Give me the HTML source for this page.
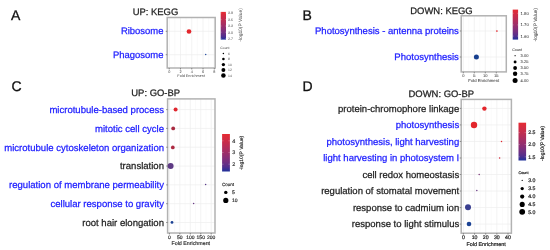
<!DOCTYPE html>
<html><head><meta charset="utf-8"><style>
html,body{margin:0;padding:0;background:#fff;width:550px;height:250px;overflow:hidden}
svg{display:block;filter:blur(0.35px)}
text{font-family:'Liberation Sans', Arial, sans-serif;text-rendering:geometricPrecision}
</style></head><body>
<svg width="550" height="250" viewBox="0 0 550 250">
<defs><linearGradient id="cb" x1="0" y1="0" x2="0" y2="1">
<stop offset="0.000" stop-color="#e62b32"/><stop offset="0.125" stop-color="#d52c41"/><stop offset="0.250" stop-color="#c32d4e"/><stop offset="0.375" stop-color="#b12e5b"/><stop offset="0.500" stop-color="#9e2e68"/><stop offset="0.625" stop-color="#892f75"/><stop offset="0.750" stop-color="#712f81"/><stop offset="0.875" stop-color="#532f8d"/><stop offset="1.000" stop-color="#1f309a"/>
</linearGradient></defs>
<rect width="550" height="250" fill="#fff"/>
<text x="11.0" y="20.4" font-size="14" fill="#111" text-anchor="start" stroke="#111" stroke-width="0.3" >A</text>
<text x="302.6" y="20.0" font-size="14" fill="#111" text-anchor="start" stroke="#111" stroke-width="0.3" >B</text>
<text x="11.4" y="91.4" font-size="14" fill="#111" text-anchor="start" stroke="#111" stroke-width="0.3" >C</text>
<text x="302.4" y="91.0" font-size="14" fill="#111" text-anchor="start" stroke="#111" stroke-width="0.3" >D</text>
<line x1="174.83749999999998" y1="17.5" x2="174.83749999999998" y2="68.0" stroke="#f6f6f6" stroke-width="0.6"/>
<line x1="186.1125" y1="17.5" x2="186.1125" y2="68.0" stroke="#f6f6f6" stroke-width="0.6"/>
<line x1="197.3875" y1="17.5" x2="197.3875" y2="68.0" stroke="#f6f6f6" stroke-width="0.6"/>
<line x1="208.66250000000002" y1="17.5" x2="208.66250000000002" y2="68.0" stroke="#f6f6f6" stroke-width="0.6"/>
<line x1="169.2" y1="17.5" x2="169.2" y2="68.0" stroke="#eeeeee" stroke-width="0.7"/>
<line x1="180.475" y1="17.5" x2="180.475" y2="68.0" stroke="#eeeeee" stroke-width="0.7"/>
<line x1="191.75" y1="17.5" x2="191.75" y2="68.0" stroke="#eeeeee" stroke-width="0.7"/>
<line x1="203.025" y1="17.5" x2="203.025" y2="68.0" stroke="#eeeeee" stroke-width="0.7"/>
<line x1="214.3" y1="17.5" x2="214.3" y2="68.0" stroke="#eeeeee" stroke-width="0.7"/>
<line x1="167.2" y1="31.3" x2="215.2" y2="31.3" stroke="#eeeeee" stroke-width="0.7"/>
<line x1="167.2" y1="54.7" x2="215.2" y2="54.7" stroke="#eeeeee" stroke-width="0.7"/>
<rect x="167.2" y="17.5" width="48.0" height="50.5" fill="none" stroke="#b2b2b2" stroke-width="1.5" />
<line x1="165.7" y1="31.3" x2="167.2" y2="31.3" stroke="#555" stroke-width="0.6"/>
<line x1="165.7" y1="54.7" x2="167.2" y2="54.7" stroke="#555" stroke-width="0.6"/>
<line x1="169.2" y1="68.0" x2="169.2" y2="69.5" stroke="#555" stroke-width="0.6"/>
<line x1="180.475" y1="68.0" x2="180.475" y2="69.5" stroke="#555" stroke-width="0.6"/>
<line x1="191.75" y1="68.0" x2="191.75" y2="69.5" stroke="#555" stroke-width="0.6"/>
<line x1="203.025" y1="68.0" x2="203.025" y2="69.5" stroke="#555" stroke-width="0.6"/>
<line x1="214.3" y1="68.0" x2="214.3" y2="69.5" stroke="#555" stroke-width="0.6"/>
<text x="163.4" y="34.2" font-size="9.45" fill="#2020ff" text-anchor="end" stroke="#2020ff" stroke-width="0.25" >Ribosome</text>
<text x="163.4" y="57.6" font-size="9.45" fill="#2020ff" text-anchor="end" stroke="#2020ff" stroke-width="0.25" >Phagosome</text>
<text x="169.2" y="72.6" font-size="3.8" fill="#4a4a4a" text-anchor="middle" >0</text>
<text x="180.47" y="72.6" font-size="3.8" fill="#4a4a4a" text-anchor="middle" >2</text>
<text x="191.75" y="72.6" font-size="3.8" fill="#4a4a4a" text-anchor="middle" >4</text>
<text x="203.03" y="72.6" font-size="3.8" fill="#4a4a4a" text-anchor="middle" >6</text>
<text x="214.3" y="72.6" font-size="3.8" fill="#4a4a4a" text-anchor="middle" >8</text>
<text x="191.2" y="77.2" font-size="3.8" fill="#4a4a4a" text-anchor="middle" >Fold Enrichment</text>
<circle cx="189.0" cy="31.5" r="2.35" fill="#e3262c"/>
<circle cx="205.7" cy="54.6" r="0.75" fill="#2a4fa0"/>
<text x="155.5" y="14.9" font-size="9.45" fill="#1e1e1e" text-anchor="middle" stroke="#1e1e1e" stroke-width="0.25" >UP: KEGG</text>
<rect x="220.7" y="11.9" width="5.3" height="27.700000000000003" fill="url(#cb)"/>
<line x1="220.7" y1="12.9" x2="221.76" y2="12.9" stroke="rgba(255,255,255,0.6)" stroke-width="0.4"/>
<line x1="224.94" y1="12.9" x2="226.0" y2="12.9" stroke="rgba(255,255,255,0.6)" stroke-width="0.4"/>
<line x1="220.7" y1="19.6" x2="221.76" y2="19.6" stroke="rgba(255,255,255,0.6)" stroke-width="0.4"/>
<line x1="224.94" y1="19.6" x2="226.0" y2="19.6" stroke="rgba(255,255,255,0.6)" stroke-width="0.4"/>
<line x1="220.7" y1="26.0" x2="221.76" y2="26.0" stroke="rgba(255,255,255,0.6)" stroke-width="0.4"/>
<line x1="224.94" y1="26.0" x2="226.0" y2="26.0" stroke="rgba(255,255,255,0.6)" stroke-width="0.4"/>
<line x1="220.7" y1="32.2" x2="221.76" y2="32.2" stroke="rgba(255,255,255,0.6)" stroke-width="0.4"/>
<line x1="224.94" y1="32.2" x2="226.0" y2="32.2" stroke="rgba(255,255,255,0.6)" stroke-width="0.4"/>
<line x1="220.7" y1="38.4" x2="221.76" y2="38.4" stroke="rgba(255,255,255,0.6)" stroke-width="0.4"/>
<line x1="224.94" y1="38.4" x2="226.0" y2="38.4" stroke="rgba(255,255,255,0.6)" stroke-width="0.4"/>
<text x="228.0" y="14.2" font-size="3.6" fill="#4a4a4a" text-anchor="start" >3.9</text>
<text x="228.0" y="20.9" font-size="3.6" fill="#4a4a4a" text-anchor="start" >3.6</text>
<text x="228.0" y="27.3" font-size="3.6" fill="#4a4a4a" text-anchor="start" >3.3</text>
<text x="228.0" y="33.5" font-size="3.6" fill="#4a4a4a" text-anchor="start" >3.0</text>
<text x="228.0" y="39.7" font-size="3.6" fill="#4a4a4a" text-anchor="start" >2.7</text>
<text x="241.5" y="25.0" font-size="4.9" fill="#4a4a4a" text-anchor="middle" transform="rotate(-90 241.5 25.0)" dominant-baseline="central">-log10(P Value)</text>
<text x="220.3" y="49.32" font-size="3.4" fill="#4a4a4a" text-anchor="start" >Count</text>
<circle cx="223.4" cy="53.4" r="0.75" fill="#000"/>
<text x="228.0" y="54.62" font-size="3.4" fill="#4a4a4a" text-anchor="start" >6</text>
<circle cx="223.4" cy="59.0" r="1.3" fill="#000"/>
<text x="228.0" y="60.22" font-size="3.4" fill="#4a4a4a" text-anchor="start" >8</text>
<circle cx="223.4" cy="64.6" r="1.65" fill="#000"/>
<text x="228.0" y="65.82" font-size="3.4" fill="#4a4a4a" text-anchor="start" >10</text>
<circle cx="223.4" cy="70.0" r="1.95" fill="#000"/>
<text x="228.0" y="71.22" font-size="3.4" fill="#4a4a4a" text-anchor="start" >12</text>
<circle cx="223.4" cy="75.4" r="2.25" fill="#000"/>
<text x="228.0" y="76.62" font-size="3.4" fill="#4a4a4a" text-anchor="start" >14</text>
<line x1="468.8" y1="15.8" x2="468.8" y2="71.9" stroke="#f6f6f6" stroke-width="0.6"/>
<line x1="479.8" y1="15.8" x2="479.8" y2="71.9" stroke="#f6f6f6" stroke-width="0.6"/>
<line x1="490.8" y1="15.8" x2="490.8" y2="71.9" stroke="#f6f6f6" stroke-width="0.6"/>
<line x1="501.8" y1="15.8" x2="501.8" y2="71.9" stroke="#f6f6f6" stroke-width="0.6"/>
<line x1="463.3" y1="15.8" x2="463.3" y2="71.9" stroke="#eeeeee" stroke-width="0.7"/>
<line x1="474.3" y1="15.8" x2="474.3" y2="71.9" stroke="#eeeeee" stroke-width="0.7"/>
<line x1="485.3" y1="15.8" x2="485.3" y2="71.9" stroke="#eeeeee" stroke-width="0.7"/>
<line x1="496.3" y1="15.8" x2="496.3" y2="71.9" stroke="#eeeeee" stroke-width="0.7"/>
<line x1="461.2" y1="31.0" x2="506.3" y2="31.0" stroke="#eeeeee" stroke-width="0.7"/>
<line x1="461.2" y1="57.0" x2="506.3" y2="57.0" stroke="#eeeeee" stroke-width="0.7"/>
<rect x="461.2" y="15.8" width="45.10000000000002" height="56.10000000000001" fill="none" stroke="#b2b2b2" stroke-width="1.5" />
<line x1="459.7" y1="31.0" x2="461.2" y2="31.0" stroke="#555" stroke-width="0.6"/>
<line x1="459.7" y1="57.0" x2="461.2" y2="57.0" stroke="#555" stroke-width="0.6"/>
<line x1="463.3" y1="71.9" x2="463.3" y2="73.4" stroke="#555" stroke-width="0.6"/>
<line x1="474.3" y1="71.9" x2="474.3" y2="73.4" stroke="#555" stroke-width="0.6"/>
<line x1="485.3" y1="71.9" x2="485.3" y2="73.4" stroke="#555" stroke-width="0.6"/>
<line x1="496.3" y1="71.9" x2="496.3" y2="73.4" stroke="#555" stroke-width="0.6"/>
<text x="458.9" y="33.5" font-size="9.53" fill="#2020ff" text-anchor="end" stroke="#2020ff" stroke-width="0.25" >Photosynthesis - antenna proteins</text>
<text x="458.9" y="59.5" font-size="9.53" fill="#2020ff" text-anchor="end" stroke="#2020ff" stroke-width="0.25" >Photosynthesis</text>
<text x="463.3" y="77.1" font-size="4.0" fill="#444444" text-anchor="middle" stroke="#444444" stroke-width="0.05" >0</text>
<text x="474.3" y="77.1" font-size="4.0" fill="#444444" text-anchor="middle" stroke="#444444" stroke-width="0.05" >5</text>
<text x="485.3" y="77.1" font-size="4.0" fill="#444444" text-anchor="middle" stroke="#444444" stroke-width="0.05" >10</text>
<text x="496.3" y="77.1" font-size="4.0" fill="#444444" text-anchor="middle" stroke="#444444" stroke-width="0.05" >15</text>
<text x="483.8" y="81.6" font-size="4.25" fill="#444444" text-anchor="middle" stroke="#444444" stroke-width="0.05" >Fold Enrichment</text>
<circle cx="496.9" cy="31.0" r="0.85" fill="#e3262c"/>
<circle cx="476.4" cy="56.9" r="2.5" fill="#173f8f"/>
<text x="441.5" y="14.1" font-size="9.45" fill="#1e1e1e" text-anchor="middle" stroke="#1e1e1e" stroke-width="0.25" >DOWN: KEGG</text>
<rect x="512.7" y="9.6" width="5.4" height="30.0" fill="url(#cb)"/>
<line x1="512.7" y1="13.3" x2="513.7800000000001" y2="13.3" stroke="rgba(255,255,255,0.6)" stroke-width="0.4"/>
<line x1="517.02" y1="13.3" x2="518.1" y2="13.3" stroke="rgba(255,255,255,0.6)" stroke-width="0.4"/>
<line x1="512.7" y1="24.9" x2="513.7800000000001" y2="24.9" stroke="rgba(255,255,255,0.6)" stroke-width="0.4"/>
<line x1="517.02" y1="24.9" x2="518.1" y2="24.9" stroke="rgba(255,255,255,0.6)" stroke-width="0.4"/>
<line x1="512.7" y1="36.1" x2="513.7800000000001" y2="36.1" stroke="rgba(255,255,255,0.6)" stroke-width="0.4"/>
<line x1="517.02" y1="36.1" x2="518.1" y2="36.1" stroke="rgba(255,255,255,0.6)" stroke-width="0.4"/>
<text x="520.5" y="14.85" font-size="4.3" fill="#444444" text-anchor="start" stroke="#444444" stroke-width="0.05" >1.80</text>
<text x="520.5" y="26.45" font-size="4.3" fill="#444444" text-anchor="start" stroke="#444444" stroke-width="0.05" >1.70</text>
<text x="520.5" y="37.65" font-size="4.3" fill="#444444" text-anchor="start" stroke="#444444" stroke-width="0.05" >1.60</text>
<text x="536.6" y="24.8" font-size="4.9" fill="#444444" text-anchor="middle" stroke="#444444" stroke-width="0.05" transform="rotate(-90 536.6 24.8)" dominant-baseline="central">-log10(P Value)</text>
<text x="512.2" y="50.63" font-size="3.7" fill="#444444" text-anchor="start" stroke="#444444" stroke-width="0.05" >Count</text>
<circle cx="515.1" cy="55.7" r="0.6" fill="#000"/>
<text x="520.6" y="57.14" font-size="4.0" fill="#444444" text-anchor="start" stroke="#444444" stroke-width="0.05" >3.00</text>
<circle cx="515.1" cy="62.0" r="1.45" fill="#000"/>
<text x="520.6" y="63.44" font-size="4.0" fill="#444444" text-anchor="start" stroke="#444444" stroke-width="0.05" >3.25</text>
<circle cx="515.1" cy="68.0" r="1.9" fill="#000"/>
<text x="520.6" y="69.44" font-size="4.0" fill="#444444" text-anchor="start" stroke="#444444" stroke-width="0.05" >3.50</text>
<circle cx="515.1" cy="73.8" r="2.2" fill="#000"/>
<text x="520.6" y="75.24" font-size="4.0" fill="#444444" text-anchor="start" stroke="#444444" stroke-width="0.05" >3.75</text>
<circle cx="515.1" cy="80.5" r="2.5" fill="#000"/>
<text x="520.6" y="81.94" font-size="4.0" fill="#444444" text-anchor="start" stroke="#444444" stroke-width="0.05" >4.00</text>
<line x1="174.625" y1="98.9" x2="174.625" y2="233.0" stroke="#f6f6f6" stroke-width="0.6"/>
<line x1="185.075" y1="98.9" x2="185.075" y2="233.0" stroke="#f6f6f6" stroke-width="0.6"/>
<line x1="195.525" y1="98.9" x2="195.525" y2="233.0" stroke="#f6f6f6" stroke-width="0.6"/>
<line x1="205.975" y1="98.9" x2="205.975" y2="233.0" stroke="#f6f6f6" stroke-width="0.6"/>
<line x1="169.4" y1="98.9" x2="169.4" y2="233.0" stroke="#eeeeee" stroke-width="0.7"/>
<line x1="179.85" y1="98.9" x2="179.85" y2="233.0" stroke="#eeeeee" stroke-width="0.7"/>
<line x1="190.3" y1="98.9" x2="190.3" y2="233.0" stroke="#eeeeee" stroke-width="0.7"/>
<line x1="200.75" y1="98.9" x2="200.75" y2="233.0" stroke="#eeeeee" stroke-width="0.7"/>
<line x1="211.2" y1="98.9" x2="211.2" y2="233.0" stroke="#eeeeee" stroke-width="0.7"/>
<line x1="167.6" y1="109.6" x2="215.0" y2="109.6" stroke="#eeeeee" stroke-width="0.7"/>
<line x1="167.6" y1="128.42" x2="215.0" y2="128.42" stroke="#eeeeee" stroke-width="0.7"/>
<line x1="167.6" y1="147.23" x2="215.0" y2="147.23" stroke="#eeeeee" stroke-width="0.7"/>
<line x1="167.6" y1="166.05" x2="215.0" y2="166.05" stroke="#eeeeee" stroke-width="0.7"/>
<line x1="167.6" y1="184.87" x2="215.0" y2="184.87" stroke="#eeeeee" stroke-width="0.7"/>
<line x1="167.6" y1="203.68" x2="215.0" y2="203.68" stroke="#eeeeee" stroke-width="0.7"/>
<line x1="167.6" y1="222.5" x2="215.0" y2="222.5" stroke="#eeeeee" stroke-width="0.7"/>
<rect x="167.6" y="98.9" width="47.400000000000006" height="134.1" fill="none" stroke="#b2b2b2" stroke-width="1.5" />
<line x1="166.1" y1="109.6" x2="167.6" y2="109.6" stroke="#555" stroke-width="0.6"/>
<line x1="166.1" y1="128.42" x2="167.6" y2="128.42" stroke="#555" stroke-width="0.6"/>
<line x1="166.1" y1="147.23" x2="167.6" y2="147.23" stroke="#555" stroke-width="0.6"/>
<line x1="166.1" y1="166.05" x2="167.6" y2="166.05" stroke="#555" stroke-width="0.6"/>
<line x1="166.1" y1="184.87" x2="167.6" y2="184.87" stroke="#555" stroke-width="0.6"/>
<line x1="166.1" y1="203.68" x2="167.6" y2="203.68" stroke="#555" stroke-width="0.6"/>
<line x1="166.1" y1="222.5" x2="167.6" y2="222.5" stroke="#555" stroke-width="0.6"/>
<line x1="169.4" y1="233.0" x2="169.4" y2="234.5" stroke="#555" stroke-width="0.6"/>
<line x1="179.85" y1="233.0" x2="179.85" y2="234.5" stroke="#555" stroke-width="0.6"/>
<line x1="190.3" y1="233.0" x2="190.3" y2="234.5" stroke="#555" stroke-width="0.6"/>
<line x1="200.75" y1="233.0" x2="200.75" y2="234.5" stroke="#555" stroke-width="0.6"/>
<line x1="211.2" y1="233.0" x2="211.2" y2="234.5" stroke="#555" stroke-width="0.6"/>
<text x="164.0" y="112.9" font-size="9.55" fill="#2020ff" text-anchor="end" stroke="#2020ff" stroke-width="0.25" >microtubule-based process</text>
<text x="164.0" y="131.72" font-size="9.55" fill="#2020ff" text-anchor="end" stroke="#2020ff" stroke-width="0.25" >mitotic cell cycle</text>
<text x="164.0" y="150.53" font-size="9.55" fill="#2020ff" text-anchor="end" stroke="#2020ff" stroke-width="0.25" >microtubule cytoskeleton organization</text>
<text x="164.0" y="169.35" font-size="9.55" fill="#1e1e1e" text-anchor="end" stroke="#1e1e1e" stroke-width="0.25" >translation</text>
<text x="164.0" y="188.17" font-size="9.55" fill="#2020ff" text-anchor="end" stroke="#2020ff" stroke-width="0.25" >regulation of membrane permeability</text>
<text x="164.0" y="206.98" font-size="9.55" fill="#2020ff" text-anchor="end" stroke="#2020ff" stroke-width="0.25" >cellular response to gravity</text>
<text x="164.0" y="225.8" font-size="9.55" fill="#1e1e1e" text-anchor="end" stroke="#1e1e1e" stroke-width="0.25" >root hair elongation</text>
<text x="169.4" y="238.8" font-size="5.0" fill="#2a2a2a" text-anchor="middle" stroke="#2a2a2a" stroke-width="0.16" >0</text>
<text x="179.85" y="238.8" font-size="5.0" fill="#2a2a2a" text-anchor="middle" stroke="#2a2a2a" stroke-width="0.16" >50</text>
<text x="190.3" y="238.8" font-size="5.0" fill="#2a2a2a" text-anchor="middle" stroke="#2a2a2a" stroke-width="0.16" >100</text>
<text x="200.75" y="238.8" font-size="5.0" fill="#2a2a2a" text-anchor="middle" stroke="#2a2a2a" stroke-width="0.16" >150</text>
<text x="211.2" y="238.8" font-size="5.0" fill="#2a2a2a" text-anchor="middle" stroke="#2a2a2a" stroke-width="0.16" >200</text>
<text x="190.8" y="244.9" font-size="5.3" fill="#2a2a2a" text-anchor="middle" stroke="#2a2a2a" stroke-width="0.16" >Fold Enrichment</text>
<circle cx="175.6" cy="109.6" r="2.0" fill="#e0262e"/>
<circle cx="173.2" cy="128.4" r="1.9" fill="#a82a40"/>
<circle cx="172.8" cy="147.4" r="1.85" fill="#ad2a42"/>
<circle cx="170.6" cy="166.0" r="3.0" fill="#5e3a84"/>
<circle cx="205.6" cy="184.6" r="0.75" fill="#5a3b8a"/>
<circle cx="193.6" cy="203.4" r="0.75" fill="#6a3a86"/>
<circle cx="172.0" cy="222.4" r="1.4" fill="#1b4294"/>
<text x="155.7" y="96.0" font-size="9.45" fill="#1e1e1e" text-anchor="middle" stroke="#1e1e1e" stroke-width="0.25" >UP: GO-BP</text>
<rect x="222.1" y="134.0" width="7.8" height="37.5" fill="url(#cb)"/>
<line x1="222.1" y1="140.8" x2="223.66" y2="140.8" stroke="rgba(255,255,255,0.6)" stroke-width="0.4"/>
<line x1="228.34" y1="140.8" x2="229.9" y2="140.8" stroke="rgba(255,255,255,0.6)" stroke-width="0.4"/>
<line x1="222.1" y1="152.5" x2="223.66" y2="152.5" stroke="rgba(255,255,255,0.6)" stroke-width="0.4"/>
<line x1="228.34" y1="152.5" x2="229.9" y2="152.5" stroke="rgba(255,255,255,0.6)" stroke-width="0.4"/>
<line x1="222.1" y1="164.2" x2="223.66" y2="164.2" stroke="rgba(255,255,255,0.6)" stroke-width="0.4"/>
<line x1="228.34" y1="164.2" x2="229.9" y2="164.2" stroke="rgba(255,255,255,0.6)" stroke-width="0.4"/>
<text x="232.2" y="142.74" font-size="5.4" fill="#2a2a2a" text-anchor="start" stroke="#2a2a2a" stroke-width="0.16" >4</text>
<text x="232.2" y="154.44" font-size="5.4" fill="#2a2a2a" text-anchor="start" stroke="#2a2a2a" stroke-width="0.16" >3</text>
<text x="232.2" y="166.14" font-size="5.4" fill="#2a2a2a" text-anchor="start" stroke="#2a2a2a" stroke-width="0.16" >2</text>
<text x="242.1" y="152.9" font-size="5.0" fill="#2a2a2a" text-anchor="middle" stroke="#2a2a2a" stroke-width="0.16" transform="rotate(-90 242.1 152.9)" dominant-baseline="central">-log10(P Value)</text>
<text x="222.0" y="186.02" font-size="4.5" fill="#2a2a2a" text-anchor="start" stroke="#2a2a2a" stroke-width="0.16" >Count</text>
<circle cx="225.8" cy="192.4" r="1.7" fill="#000"/>
<text x="232.0" y="194.2" font-size="5.0" fill="#2a2a2a" text-anchor="start" stroke="#2a2a2a" stroke-width="0.16" >5</text>
<circle cx="225.8" cy="200.4" r="2.6" fill="#000"/>
<text x="232.0" y="202.2" font-size="5.0" fill="#2a2a2a" text-anchor="start" stroke="#2a2a2a" stroke-width="0.16" >10</text>
<line x1="468.97499999999997" y1="99.4" x2="468.97499999999997" y2="233.2" stroke="#f6f6f6" stroke-width="0.6"/>
<line x1="480.125" y1="99.4" x2="480.125" y2="233.2" stroke="#f6f6f6" stroke-width="0.6"/>
<line x1="491.275" y1="99.4" x2="491.275" y2="233.2" stroke="#f6f6f6" stroke-width="0.6"/>
<line x1="502.425" y1="99.4" x2="502.425" y2="233.2" stroke="#f6f6f6" stroke-width="0.6"/>
<line x1="463.4" y1="99.4" x2="463.4" y2="233.2" stroke="#eeeeee" stroke-width="0.7"/>
<line x1="474.54999999999995" y1="99.4" x2="474.54999999999995" y2="233.2" stroke="#eeeeee" stroke-width="0.7"/>
<line x1="485.7" y1="99.4" x2="485.7" y2="233.2" stroke="#eeeeee" stroke-width="0.7"/>
<line x1="496.85" y1="99.4" x2="496.85" y2="233.2" stroke="#eeeeee" stroke-width="0.7"/>
<line x1="508.0" y1="99.4" x2="508.0" y2="233.2" stroke="#eeeeee" stroke-width="0.7"/>
<line x1="461.2" y1="108.4" x2="511.4" y2="108.4" stroke="#eeeeee" stroke-width="0.7"/>
<line x1="461.2" y1="124.93" x2="511.4" y2="124.93" stroke="#eeeeee" stroke-width="0.7"/>
<line x1="461.2" y1="141.46" x2="511.4" y2="141.46" stroke="#eeeeee" stroke-width="0.7"/>
<line x1="461.2" y1="157.99" x2="511.4" y2="157.99" stroke="#eeeeee" stroke-width="0.7"/>
<line x1="461.2" y1="174.51" x2="511.4" y2="174.51" stroke="#eeeeee" stroke-width="0.7"/>
<line x1="461.2" y1="191.04" x2="511.4" y2="191.04" stroke="#eeeeee" stroke-width="0.7"/>
<line x1="461.2" y1="207.57" x2="511.4" y2="207.57" stroke="#eeeeee" stroke-width="0.7"/>
<line x1="461.2" y1="224.1" x2="511.4" y2="224.1" stroke="#eeeeee" stroke-width="0.7"/>
<rect x="461.2" y="99.4" width="50.19999999999999" height="133.79999999999998" fill="none" stroke="#b2b2b2" stroke-width="1.5" />
<line x1="459.7" y1="108.4" x2="461.2" y2="108.4" stroke="#555" stroke-width="0.6"/>
<line x1="459.7" y1="124.93" x2="461.2" y2="124.93" stroke="#555" stroke-width="0.6"/>
<line x1="459.7" y1="141.46" x2="461.2" y2="141.46" stroke="#555" stroke-width="0.6"/>
<line x1="459.7" y1="157.99" x2="461.2" y2="157.99" stroke="#555" stroke-width="0.6"/>
<line x1="459.7" y1="174.51" x2="461.2" y2="174.51" stroke="#555" stroke-width="0.6"/>
<line x1="459.7" y1="191.04" x2="461.2" y2="191.04" stroke="#555" stroke-width="0.6"/>
<line x1="459.7" y1="207.57" x2="461.2" y2="207.57" stroke="#555" stroke-width="0.6"/>
<line x1="459.7" y1="224.1" x2="461.2" y2="224.1" stroke="#555" stroke-width="0.6"/>
<line x1="463.4" y1="233.2" x2="463.4" y2="234.7" stroke="#555" stroke-width="0.6"/>
<line x1="474.54999999999995" y1="233.2" x2="474.54999999999995" y2="234.7" stroke="#555" stroke-width="0.6"/>
<line x1="485.7" y1="233.2" x2="485.7" y2="234.7" stroke="#555" stroke-width="0.6"/>
<line x1="496.85" y1="233.2" x2="496.85" y2="234.7" stroke="#555" stroke-width="0.6"/>
<line x1="508.0" y1="233.2" x2="508.0" y2="234.7" stroke="#555" stroke-width="0.6"/>
<text x="459.2" y="111.5" font-size="9.52" fill="#1e1e1e" text-anchor="end" stroke="#1e1e1e" stroke-width="0.25" >protein-chromophore linkage</text>
<text x="459.2" y="128.03" font-size="9.52" fill="#2020ff" text-anchor="end" stroke="#2020ff" stroke-width="0.25" >photosynthesis</text>
<text x="459.2" y="144.56" font-size="9.52" fill="#2020ff" text-anchor="end" stroke="#2020ff" stroke-width="0.25" >photosynthesis, light harvesting</text>
<text x="459.2" y="161.09" font-size="9.52" fill="#2020ff" text-anchor="end" stroke="#2020ff" stroke-width="0.25" >light harvesting in photosystem I</text>
<text x="459.2" y="177.61" font-size="9.52" fill="#1e1e1e" text-anchor="end" stroke="#1e1e1e" stroke-width="0.25" >cell redox homeostasis</text>
<text x="459.2" y="194.14" font-size="9.52" fill="#1e1e1e" text-anchor="end" stroke="#1e1e1e" stroke-width="0.25" >regulation of stomatal movement</text>
<text x="459.2" y="210.67" font-size="9.52" fill="#1e1e1e" text-anchor="end" stroke="#1e1e1e" stroke-width="0.25" >response to cadmium ion</text>
<text x="459.2" y="227.2" font-size="9.52" fill="#1e1e1e" text-anchor="end" stroke="#1e1e1e" stroke-width="0.25" >response to light stimulus</text>
<text x="463.4" y="239.1" font-size="5.2" fill="#222222" text-anchor="middle" stroke="#222222" stroke-width="0.2" >0</text>
<text x="474.55" y="239.1" font-size="5.2" fill="#222222" text-anchor="middle" stroke="#222222" stroke-width="0.2" >10</text>
<text x="485.7" y="239.1" font-size="5.2" fill="#222222" text-anchor="middle" stroke="#222222" stroke-width="0.2" >20</text>
<text x="496.85" y="239.1" font-size="5.2" fill="#222222" text-anchor="middle" stroke="#222222" stroke-width="0.2" >30</text>
<text x="508.0" y="239.1" font-size="5.2" fill="#222222" text-anchor="middle" stroke="#222222" stroke-width="0.2" >40</text>
<text x="486.1" y="245.5" font-size="5.4" fill="#222222" text-anchor="middle" stroke="#222222" stroke-width="0.2" >Fold Enrichment</text>
<circle cx="484.4" cy="108.6" r="2.2" fill="#e3262c"/>
<circle cx="474.0" cy="125.0" r="3.2" fill="#e3262c"/>
<circle cx="501.5" cy="141.6" r="0.75" fill="#e0262e"/>
<circle cx="499.6" cy="158.0" r="0.75" fill="#d0283a"/>
<circle cx="479.2" cy="174.4" r="0.75" fill="#7a3878"/>
<circle cx="476.8" cy="190.6" r="0.75" fill="#6a3a86"/>
<circle cx="468.0" cy="207.3" r="3.0" fill="#3a3f90"/>
<circle cx="469.0" cy="224.0" r="2.3" fill="#1b4294"/>
<text x="441.3" y="97.4" font-size="9.45" fill="#1e1e1e" text-anchor="middle" stroke="#1e1e1e" stroke-width="0.25" >DOWN: GO-BP</text>
<rect x="518.5" y="122.7" width="7.6" height="37.8" fill="url(#cb)"/>
<line x1="518.5" y1="132.6" x2="520.02" y2="132.6" stroke="rgba(255,255,255,0.6)" stroke-width="0.4"/>
<line x1="524.58" y1="132.6" x2="526.1" y2="132.6" stroke="rgba(255,255,255,0.6)" stroke-width="0.4"/>
<line x1="518.5" y1="144.5" x2="520.02" y2="144.5" stroke="rgba(255,255,255,0.6)" stroke-width="0.4"/>
<line x1="524.58" y1="144.5" x2="526.1" y2="144.5" stroke="rgba(255,255,255,0.6)" stroke-width="0.4"/>
<line x1="518.5" y1="156.8" x2="520.02" y2="156.8" stroke="rgba(255,255,255,0.6)" stroke-width="0.4"/>
<line x1="524.58" y1="156.8" x2="526.1" y2="156.8" stroke="rgba(255,255,255,0.6)" stroke-width="0.4"/>
<text x="528.3" y="134.47" font-size="5.2" fill="#222222" text-anchor="start" stroke="#222222" stroke-width="0.2" >2.5</text>
<text x="528.3" y="146.37" font-size="5.2" fill="#222222" text-anchor="start" stroke="#222222" stroke-width="0.2" >2.0</text>
<text x="528.3" y="158.67" font-size="5.2" fill="#222222" text-anchor="start" stroke="#222222" stroke-width="0.2" >1.5</text>
<text x="543.4" y="143.5" font-size="5.1" fill="#222222" text-anchor="middle" stroke="#222222" stroke-width="0.2" transform="rotate(-90 543.4 143.5)" dominant-baseline="central">-log10(P Value)</text>
<text x="518.4" y="174.17" font-size="3.8" fill="#222222" text-anchor="start" stroke="#222222" stroke-width="0.2" >Count</text>
<circle cx="522.2" cy="180.4" r="0.6" fill="#000"/>
<text x="528.2" y="182.27" font-size="5.2" fill="#222222" text-anchor="start" stroke="#222222" stroke-width="0.2" >3.0</text>
<circle cx="522.2" cy="188.6" r="1.65" fill="#000"/>
<text x="528.2" y="190.47" font-size="5.2" fill="#222222" text-anchor="start" stroke="#222222" stroke-width="0.2" >3.5</text>
<circle cx="522.2" cy="196.6" r="2.1" fill="#000"/>
<text x="528.2" y="198.47" font-size="5.2" fill="#222222" text-anchor="start" stroke="#222222" stroke-width="0.2" >4.0</text>
<circle cx="522.2" cy="204.4" r="2.55" fill="#000"/>
<text x="528.2" y="206.27" font-size="5.2" fill="#222222" text-anchor="start" stroke="#222222" stroke-width="0.2" >4.5</text>
<circle cx="522.2" cy="211.8" r="2.9" fill="#000"/>
<text x="528.2" y="213.67" font-size="5.2" fill="#222222" text-anchor="start" stroke="#222222" stroke-width="0.2" >5.0</text>
</svg>
</body></html>
